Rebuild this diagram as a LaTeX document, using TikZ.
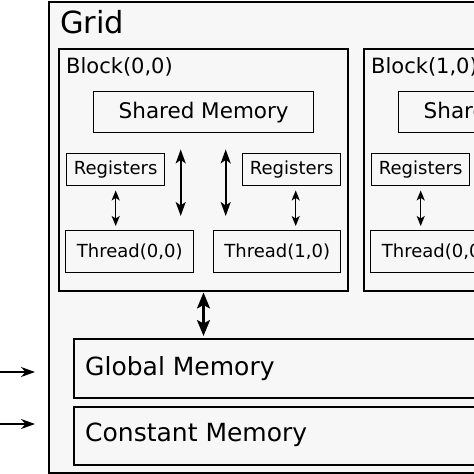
\documentclass[tikz,border=0pt]{standalone}
\usepackage{fontspec}
\setmainfont{DejaVu Sans}
\usetikzlibrary{arrows.meta}
\definecolor{bgfill}{HTML}{F7F7F7}
\tikzset{
  gridbox/.style={draw, line width=2.4pt, fill=bgfill, anchor=north west, inner sep=0pt},
  blockbox/.style={draw, line width=2pt, fill=bgfill, anchor=north west, inner sep=0pt},
  membox/.style={draw, line width=2pt, fill=bgfill, anchor=north west, inner sep=0pt},
  smallbox/.style={draw, line width=1.4pt, fill=bgfill, anchor=north west, inner sep=0pt},
  lbl/.style={anchor=base west, inner sep=0pt},
  fbig/.style={font=\fontsize{30.5}{34}\selectfont},
  fblock/.style={font=\fontsize{21}{24}\selectfont},
  fshared/.style={font=\fontsize{21.5}{24}\selectfont},
  fsmall/.style={font=\fontsize{18}{21}\selectfont},
  fmem/.style={font=\fontsize{25}{28}\selectfont},
  arrS/.style={line width=1.4pt, {Stealth[length=10pt,width=8pt,inset=2.5pt]}-{Stealth[length=10pt,width=8pt,inset=2.5pt]}},
  arrM/.style={line width=1.9pt, {Stealth[length=14pt,width=10pt,inset=3.5pt]}-{Stealth[length=14pt,width=10pt,inset=3.5pt]}},
  arrL/.style={line width=2.4pt, {Stealth[length=16pt,width=13pt,inset=3.5pt]}-{Stealth[length=16pt,width=13pt,inset=3.5pt]}},
  arrIn/.style={line width=1.6pt, -{Stealth[length=14pt,width=10pt,inset=4.5pt]}},
}
\begin{document}
\begin{tikzpicture}[x=1pt,y=-1pt]
\useasboundingbox (0,0) rectangle (474,474);
\clip (0,0) rectangle (474,474);
\fill[white] (0,0) rectangle (474,474);
% Grid
\node[gridbox, minimum width=560pt, minimum height=471pt] (grid) at (48,1) {};
\node[lbl, fbig] (gridlbl) at (60,33) {Grid};
% Block(0,0)
\node[blockbox, minimum width=289pt, minimum height=242pt] (b0) at (58,48) {};
\node[lbl, fblock] (b0lbl) at (66,73.3) {Block(0,0)};
\node[smallbox, fshared, minimum width=220pt, minimum height=41pt] (sm0) at (93,91) {Shared Memory};
\node[smallbox, fsmall, minimum width=98pt, minimum height=32pt] (r00) at (66,153) {Registers};
\node[smallbox, fsmall, minimum width=98pt, minimum height=32pt] (r10) at (242,153) {Registers};
\node[smallbox, fsmall, minimum width=128pt, minimum height=42pt] (t00) at (65,230) {Thread(0,0)};
\node[smallbox, fsmall, minimum width=127pt, minimum height=42pt] (t10) at (213,230) {Thread(1,0)};
% Block(1,0)
\node[blockbox, minimum width=289pt, minimum height=242pt] (b1) at (363,48) {};
\node[lbl, fblock] (b1lbl) at (371,73.3) {Block(1,0)};
\node[smallbox, fshared, minimum width=220pt, minimum height=41pt] (sm1) at (398,91) {Shared Memory};
\node[smallbox, fsmall, minimum width=98pt, minimum height=32pt] (r01) at (371,153) {Registers};
\node[smallbox, fsmall, minimum width=128pt, minimum height=42pt] (t01) at (370,230) {Thread(0,0)};
% memories
\node[membox, minimum width=500pt, minimum height=59pt] (gm) at (73,338) {};
\node[lbl, fmem] (gmlbl) at (85,375) {Global Memory};
\node[membox, minimum width=500pt, minimum height=58pt] (cm) at (73,406) {};
\node[lbl, fmem] (cmlbl) at (85,441.5) {Constant Memory};
% arrows inside block 0
\draw[arrS, shorten <=4pt, shorten >=4pt] (r00.south) -- (r00.south |- t00.north);
\draw[arrS, shorten <=4pt, shorten >=4pt] ([xshift=4pt]r10.south) -- ([xshift=4pt]r10.south |- t10.north);
\draw[arrM, shorten <=16pt, shorten >=14pt] ([xshift=-23pt]sm0.south) -- ([xshift=-23pt]sm0.south |- t00.north);
\draw[arrM, shorten <=16pt, shorten >=14pt] ([xshift=22pt]sm0.south) -- ([xshift=22pt]sm0.south |- t10.north);
% arrows inside block 1
\draw[arrS, shorten <=4pt, shorten >=4pt] (r01.south) -- (r01.south |- t01.north);
\draw[arrM, shorten <=16pt, shorten >=14pt] ([xshift=-23pt]sm1.south) -- ([xshift=-23pt]sm1.south |- t01.north);
% block to global
\draw[arrL, shorten <=0.5pt, shorten >=2pt] (b0.south) -- (b0.south |- gm.north);
\draw[arrL, shorten <=0.5pt, shorten >=2pt] (b1.south) -- (b1.south |- gm.north);
% incoming arrows
\coordinate (in1) at (0,372);
\coordinate (in2) at (0,424);
\draw[arrIn, shorten >=38pt] (in1) -- (in1 -| gm.west);
\draw[arrIn, shorten >=38pt] (in2) -- (in2 -| cm.west);
\end{tikzpicture}
\end{document}
